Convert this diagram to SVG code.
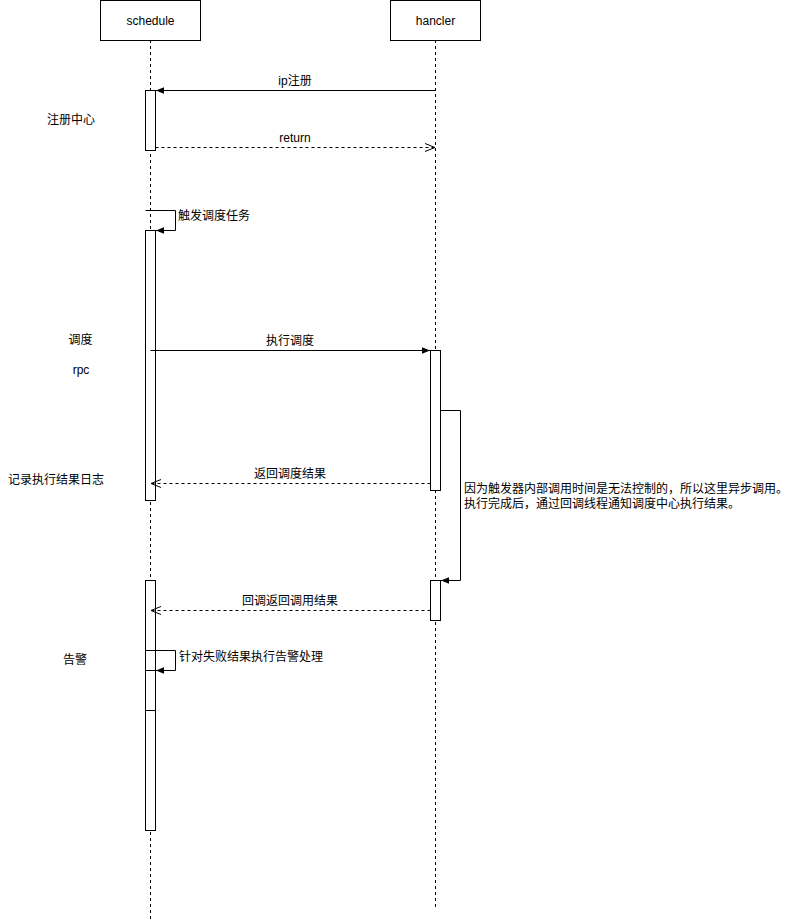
<svg xmlns="http://www.w3.org/2000/svg" width="789" height="921" viewBox="0 0 789 921">
<style>
text{font-family:"Liberation Sans","Noto Sans CJK SC",sans-serif;font-size:12px;fill:#000}
.box{fill:#fff;stroke:#000;stroke-width:1}
.life{stroke:#000;stroke-width:1;stroke-dasharray:3 3;fill:none}
.msg{stroke:#000;stroke-width:1;fill:none}
.dash{stroke:#000;stroke-width:1;fill:none;stroke-dasharray:3 3}
.mid{text-anchor:middle}
</style>
<defs>
<marker id="block" viewBox="0 0 10 10" refX="10" refY="5" markerWidth="8" markerHeight="8" orient="auto" markerUnits="userSpaceOnUse">
<path d="M0,1 L10,5 L0,9 Z" fill="#000"/>
</marker>
<marker id="open" viewBox="0 0 10 10" refX="10" refY="5" markerWidth="10" markerHeight="10" orient="auto" markerUnits="userSpaceOnUse">
<path d="M0,1 L10,5 L0,9" fill="none" stroke="#000" stroke-width="1"/>
</marker>
</defs>
<rect width="789" height="921" fill="#fff"/>
<g id="schedule">
<line class="life" x1="150.5" y1="40" x2="150.5" y2="920"/>
<rect class="box" x="100.5" y="0.5" width="100" height="40"/>
<text class="mid" x="150.5" y="24.5">schedule</text>
</g>
<g id="hancler">
<line class="life" x1="435.5" y1="40" x2="435.5" y2="908"/>
<rect class="box" x="390.5" y="0.5" width="90" height="40"/>
<text class="mid" x="435.5" y="24.5">hancler</text>
</g>
<g id="act-schedule-1"><rect class="box" x="145.5" y="90.5" width="10" height="60"/></g>
<g id="act-schedule-2"><rect class="box" x="145.5" y="230.5" width="10" height="270"/></g>
<g id="act-schedule-3"><rect class="box" x="145.5" y="580.5" width="10" height="250"/></g>
<g id="act-schedule-4"><rect class="box" x="145.5" y="670.5" width="10" height="40"/></g>
<g id="act-hancler-1"><rect class="box" x="430.5" y="350.5" width="10" height="140"/></g>
<g id="act-hancler-2"><rect class="box" x="430.5" y="580.5" width="10" height="40"/></g>
<g id="connectors">
<line class="msg" x1="435.5" y1="90.5" x2="156" y2="90.5" marker-end="url(#block)"/>
<line class="dash" x1="155.5" y1="147.5" x2="435" y2="147.5" marker-end="url(#open)"/>
<path class="msg" d="M145.5,210.5 H175.5 V230.5 H156" marker-end="url(#block)"/>
<line class="msg" x1="150.5" y1="350.5" x2="430" y2="350.5" marker-end="url(#block)"/>
<path class="msg" d="M440.5,410.5 H460.5 V580.5 H441" marker-end="url(#block)"/>
<line class="dash" x1="430.5" y1="483.5" x2="151" y2="483.5" marker-end="url(#open)"/>
<line class="dash" x1="430.5" y1="610.5" x2="151" y2="610.5" marker-end="url(#open)"/>
<path class="msg" d="M145.5,650.5 H175.5 V670.5 H156" marker-end="url(#block)"/>
</g>
<g id="labels">
<text class="mid" x="295" y="85">ip注册</text>
<text class="mid" x="295" y="142">return</text>
<text x="178" y="220">触发调度任务</text>
<text class="mid" x="290" y="345">执行调度</text>
<text class="mid" x="290" y="478">返回调度结果</text>
<text class="mid" x="290" y="605">回调返回调用结果</text>
<text x="179" y="661">针对失败结果执行告警处理</text>
<text x="464" y="493">因为触发器内部调用时间是无法控制的，所以这里异步调用。</text>
<text x="464" y="508">执行完成后，通过回调线程通知调度中心执行结果。</text>
<text class="mid" x="71" y="124">注册中心</text>
<text class="mid" x="80.5" y="344">调度</text>
<text class="mid" x="81" y="374">rpc</text>
<text class="mid" x="56" y="484">记录执行结果日志</text>
<text class="mid" x="75" y="664">告警</text>
</g>
</svg>
